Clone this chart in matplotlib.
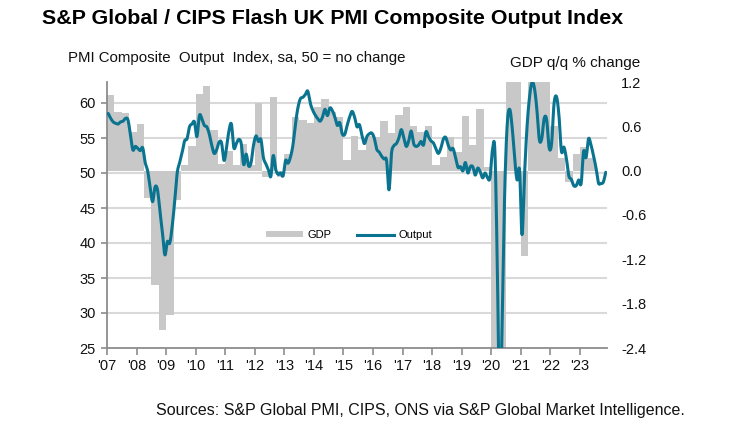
import numpy as np
import matplotlib
matplotlib.use("Agg")
import matplotlib.pyplot as plt
from matplotlib.lines import Line2D
from matplotlib.patches import Patch

plt.rcParams['font.family'] = ['Liberation Sans', 'DejaVu Sans']

# ---------------- data ----------------
years = ["'07", "'08", "'09", "'10", "'11", "'12", "'13", "'14", "'15",
         "'16", "'17", "'18", "'19", "'20", "'21", "'22", "'23"]

# PMI Composite Output Index, monthly Jan 2007 - Nov 2023
pmi_2007 = [58.5, 57.8, 57.3, 57.1, 57.0, 57.3, 57.4, 57.8, 57.6, 55.5, 53.3, 53.8]
pmi_2008 = [53.5, 53.2, 53.6, 51.5, 50.3, 48.0, 45.9, 48.0, 47.6, 44.5, 41.5, 38.3]
pmi_2009 = [40.2, 40.0, 42.5, 46.0, 50.0, 51.5, 52.9, 54.6, 54.9, 56.6, 57.0, 57.3]
pmi_2010 = [55.2, 58.2, 57.8, 56.8, 56.6, 55.6, 54.0, 52.8, 53.3, 54.4, 54.3, 51.8]
pmi_2011 = [53.5, 56.0, 57.0, 53.6, 54.2, 54.8, 54.2, 51.2, 52.7, 51.0, 51.5, 54.0]
pmi_2012 = [55.3, 54.5, 54.8, 52.2, 51.3, 50.5, 49.5, 52.5, 50.5, 49.8, 50.0, 49.6]
pmi_2013 = [51.8, 51.4, 52.3, 54.0, 57.0, 59.3, 60.6, 60.8, 61.2, 61.7, 60.0, 59.0]
pmi_2014 = [58.3, 57.8, 57.4, 58.0, 59.1, 58.2, 59.3, 58.9, 58.0, 56.8, 57.2, 55.6]
pmi_2015 = [55.5, 56.8, 58.0, 58.8, 58.0, 56.6, 56.9, 55.4, 54.2, 55.2, 55.6, 55.7]
pmi_2016 = [55.0, 53.4, 53.0, 52.4, 52.0, 51.8, 47.6, 52.8, 53.9, 54.2, 55.0, 56.2]
pmi_2017 = [55.0, 53.8, 54.6, 56.0, 54.2, 53.8, 54.0, 54.5, 54.0, 55.9, 55.2, 54.6]
pmi_2018 = [54.3, 53.5, 52.8, 53.5, 54.8, 55.1, 54.0, 53.3, 53.5, 52.2, 50.8, 50.9]
pmi_2019 = [50.3, 51.5, 50.0, 50.9, 50.9, 49.7, 50.7, 50.2, 49.3, 50.0, 49.3, 49.3]
pmi_2020 = [53.3, 53.0, 36.0, 13.8, 30.0, 47.7, 57.0, 59.1, 56.5, 52.1, 49.0, 50.4]
pmi_2021 = [41.2, 49.6, 56.4, 60.7, 62.9, 62.2, 59.2, 54.8, 54.9, 57.8, 57.6, 53.6]
pmi_2022 = [54.2, 59.9, 60.9, 58.2, 53.1, 53.7, 52.1, 49.6, 49.1, 48.2, 48.2, 49.0]
pmi_2023 = [48.5, 53.1, 52.2, 54.9, 54.0, 52.5, 50.8, 48.6, 48.5, 48.7, 50.1]

# GDP q/q % change, quarterly 2007Q1 - 2023Q3
gdp_2007 = [1.02, 0.79, 0.78, 0.53]
gdp_2008 = [0.63, -0.37, -1.55, -2.16]
gdp_2009 = [-1.96, -0.40, 0.07, 0.34]
gdp_2010 = [1.04, 1.14, 0.55, 0.09]
gdp_2011 = [0.27, 0.07, 0.36, 0.08]
gdp_2012 = [0.92, -0.09, 1.00, -0.08]
gdp_2013 = [0.23, 0.72, 0.69, 0.64]
gdp_2014 = [0.86, 0.97, 0.80, 0.72]
gdp_2015 = [0.14, 0.47, 0.28, 0.47]
gdp_2016 = [0.45, 0.67, 0.51, 0.75]
gdp_2017 = [0.86, 0.60, 0.53, 0.60]
gdp_2018 = [0.07, 0.19, 0.45, 0.25]
gdp_2019 = [0.74, 0.35, 0.83, 0.05]
gdp_2020 = [-2.7, -21.0, 17.6, 1.5]
gdp_2021 = [-1.16, 5.5, 1.7, 1.5]
gdp_2022 = [0.6, 0.17, -0.16, 0.23]
gdp_2023 = [0.32, 0.17, 0.0]

pmi = (pmi_2007 + pmi_2008 + pmi_2009 + pmi_2010 + pmi_2011 + pmi_2012 +
       pmi_2013 + pmi_2014 + pmi_2015 + pmi_2016 + pmi_2017 + pmi_2018 +
       pmi_2019 + pmi_2020 + pmi_2021 + pmi_2022 + pmi_2023)
gdp = (gdp_2007 + gdp_2008 + gdp_2009 + gdp_2010 + gdp_2011 + gdp_2012 +
       gdp_2013 + gdp_2014 + gdp_2015 + gdp_2016 + gdp_2017 + gdp_2018 +
       gdp_2019 + gdp_2020 + gdp_2021 + gdp_2022 + gdp_2023)

# ---------------- styling ----------------
LINE_C = '#0A7490'
BAR_C = '#C8C8C8'
GRID_C = '#D9D9D9'
SPINE_C = '#8C8C8C'
TXT_C = '#111111'


def catmull_rom(x, y, n=10):
    x = np.asarray(x, float)
    y = np.asarray(y, float)
    px = np.concatenate([[x[0]], x, [x[-1]]])
    py = np.concatenate([[y[0]], y, [y[-1]]])
    t = np.linspace(0, 1, n, endpoint=False)
    ox, oy = [], []
    for i in range(1, len(px) - 2):
        for arr, out in ((px, ox), (py, oy)):
            p0, p1, p2, p3 = arr[i - 1], arr[i], arr[i + 1], arr[i + 2]
            out.extend(0.5 * (2 * p1 + (-p0 + p2) * t +
                              (2 * p0 - 5 * p1 + 4 * p2 - p3) * t ** 2 +
                              (-p0 + 3 * p1 - 3 * p2 + p3) * t ** 3))
    ox.append(x[-1])
    oy.append(y[-1])
    return np.array(ox), np.array(oy)


fig = plt.figure(figsize=(7.33, 4.25), dpi=100)
ax = fig.add_axes([107 / 733, 1 - 348 / 425, 500 / 733, 266 / 425])
ax2 = ax.twinx()

months = np.arange(len(pmi))
quarters = np.arange(len(gdp))

# GDP bars on right axis (behind)
ax2.bar(quarters * 3 - 0.5, gdp, width=3, align='edge', color=BAR_C,
        linewidth=0, zorder=2)
ax2.set_ylim(-2.4, 1.2)
ax2.set_yticks([1.2, 0.6, 0.0, -0.6, -1.2, -1.8, -2.4])
ax2.set_yticklabels(['1.2', '0.6', '0.0', '-0.6', '-1.2', '-1.8', '-2.4'])

# left-axis gridlines drawn behind bars
left_ticks = [25, 30, 35, 40, 45, 50, 55, 60]
lo, hi = 25, 63
for v in left_ticks[1:]:
    ax2.axhline(-2.4 + (v - lo) * 3.6 / (hi - lo), color=GRID_C, lw=1.5, zorder=1)

# PMI line on left axis (front)
sx, sy = catmull_rom(months, pmi)
ax.plot(sx, sy, color=LINE_C, lw=2.2, solid_capstyle='round', zorder=3)
ax.set_ylim(lo, hi)
ax.set_yticks(left_ticks)
ax.set_xlim(-0.5, len(pmi) - 0.5)
ax.set_xticks(np.arange(len(years)) * 12 - 0.5)
ax.set_xticklabels(years)

ax.set_zorder(ax2.get_zorder() + 1)
ax.patch.set_visible(False)

for a in (ax, ax2):
    for s in ('top', 'right'):
        a.spines[s].set_visible(False)
ax2.spines['left'].set_visible(False)
ax2.spines['bottom'].set_visible(False)
ax.spines['left'].set_color(SPINE_C)
ax.spines['bottom'].set_color(SPINE_C)
ax.spines['left'].set_linewidth(1.3)
ax.spines['bottom'].set_linewidth(1.3)

ax.tick_params(axis='y', length=4, width=1.2, color=SPINE_C, labelsize=10.5,
               pad=4, labelcolor=TXT_C)
ax.tick_params(axis='x', length=5, width=1.2, color=SPINE_C, labelsize=10.5,
               pad=3, labelcolor=TXT_C)
ax2.tick_params(axis='y', length=0, labelsize=10.5, pad=10, labelcolor=TXT_C)

# legend
handles = [Patch(facecolor=BAR_C, edgecolor='none'),
           Line2D([0], [0], color=LINE_C, lw=2.2)]
leg = fig.legend(handles, ['GDP', 'Output'], loc='center',
                 bbox_to_anchor=(349 / 733, 1 - 235 / 425), ncol=2,
                 frameon=False, fontsize=8, handlelength=3.3,
                 handleheight=0.45, handletextpad=0.4, columnspacing=2.3)

# titles
fig.text(42 / 733, 1 - 18 / 425, 'S&P Global / CIPS Flash UK PMI Composite Output Index',
         fontsize=15.4, fontweight='bold', ha='left', va='center', color='#000000')
fig.text(68 / 733, 1 - 58 / 425, 'PMI Composite  Output  Index, sa, 50 = no change',
         fontsize=10.8, ha='left', va='center', color=TXT_C)
fig.text(640 / 733, 1 - 63 / 425, 'GDP q/q % change',
         fontsize=11, ha='right', va='center', color=TXT_C)
fig.text(685 / 733, 1 - 410 / 425,
         'Sources: S&P Global PMI, CIPS, ONS via S&P Global Market Intelligence.',
         fontsize=11.5, ha='right', va='center', color=TXT_C)

fig.savefig('out.png', dpi=100)
